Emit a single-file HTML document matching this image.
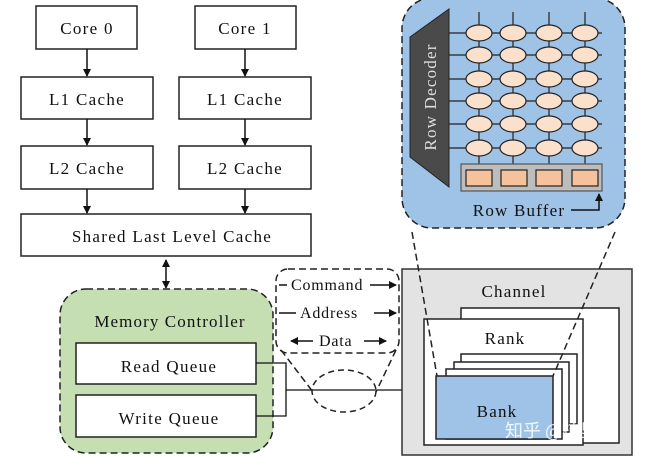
<!DOCTYPE html>
<html><head><meta charset="utf-8"><style>
html,body{margin:0;padding:0;background:#fff;}
svg{display:block;}
text{font-family:"Liberation Serif","Noto Serif CJK SC",serif;fill:#111;}
</style></head><body>
<svg width="646" height="457" viewBox="0 0 646 457" xmlns="http://www.w3.org/2000/svg">
<defs>
<marker id="ah" markerWidth="8" markerHeight="8" refX="7" refY="4" orient="auto" markerUnits="userSpaceOnUse">
<path d="M0,0 L8,4 L0,8 Z" fill="#111"/></marker>
<marker id="ahs" markerWidth="8" markerHeight="8" refX="1" refY="4" orient="auto" markerUnits="userSpaceOnUse">
<path d="M8,0 L0,4 L8,8 Z" fill="#111"/></marker>
</defs>
<g stroke="#222" stroke-width="1.5" fill="#fff">
<rect x="36" y="6" width="101" height="43"/>
<rect x="195" y="6" width="101" height="43"/>
<rect x="21" y="77" width="132" height="42"/>
<rect x="179" y="77" width="132" height="42"/>
<rect x="21" y="146" width="132" height="43"/>
<rect x="179" y="146" width="132" height="43"/>
<rect x="21" y="214" width="290" height="42"/>
</g>
<g stroke="#111" stroke-width="1.5" marker-end="url(#ah)">
<line x1="87" y1="49" x2="87" y2="76"/>
<line x1="245" y1="49" x2="245" y2="76"/>
<line x1="87" y1="119" x2="87" y2="145"/>
<line x1="245" y1="119" x2="245" y2="145"/>
<line x1="87" y1="189" x2="87" y2="213"/>
<line x1="245" y1="189" x2="245" y2="213"/>
<line x1="166" y1="260" x2="166" y2="288" marker-start="url(#ahs)"/>
</g>
<g font-size="17" text-anchor="middle" letter-spacing="1.3">
<text x="87" y="34">Core 0</text>
<text x="245" y="34">Core 1</text>
<text x="87" y="105">L1 Cache</text>
<text x="245" y="105">L1 Cache</text>
<text x="87" y="174">L2 Cache</text>
<text x="245" y="174">L2 Cache</text>
<text x="172" y="242">Shared Last Level Cache</text>
</g>
<rect x="60" y="289" width="213" height="164" rx="26" fill="#c5dfb2" stroke="#222" stroke-width="1.5" stroke-dasharray="7,4"/>
<g font-size="17" text-anchor="middle" letter-spacing="1.1">
<text x="170" y="327">Memory Controller</text>
</g>
<rect x="76" y="343" width="180" height="41" fill="#fff" stroke="#222" stroke-width="1.5"/>
<rect x="76" y="395" width="180" height="42" fill="#fff" stroke="#222" stroke-width="1.5"/>
<g font-size="17" text-anchor="middle" letter-spacing="1.3">
<text x="169" y="372">Read Queue</text>
<text x="169" y="424">Write Queue</text>
</g>
<path d="M256,363 H286 V416 H256 M286,390 H402" fill="none" stroke="#111" stroke-width="1.3"/>
<rect x="276" y="269" width="123" height="84" rx="12" fill="none" stroke="#222" stroke-width="1.5" stroke-dasharray="7,4"/>
<g font-size="16" letter-spacing="0.8">
<text x="291" y="290">Command</text>
<text x="300" y="318">Address</text>
<text x="319" y="346">Data</text>
</g>
<g stroke="#111" stroke-width="1.5">
<line x1="279" y1="285" x2="287" y2="285"/>
<line x1="370" y1="285" x2="396" y2="285" marker-end="url(#ah)"/>
<line x1="279" y1="313" x2="296" y2="313"/>
<line x1="374" y1="313" x2="396" y2="313" marker-end="url(#ah)"/>
<line x1="313" y1="341" x2="291" y2="341" marker-end="url(#ah)"/>
<line x1="364" y1="341" x2="386" y2="341" marker-end="url(#ah)"/>
</g>
<ellipse cx="344" cy="391" rx="32" ry="21" fill="none" stroke="#222" stroke-width="1.5" stroke-dasharray="6,4"/>
<g stroke="#222" stroke-width="1.5" stroke-dasharray="7,4" fill="none">
<line x1="281" y1="350" x2="313" y2="392"/>
<line x1="396" y1="350" x2="376" y2="392"/>
</g>
<rect x="402" y="269" width="230" height="186" fill="#e3e3e3" stroke="#333" stroke-width="1.5"/>
<text x="514" y="297" font-size="17" text-anchor="middle" letter-spacing="1.2">Channel</text>
<rect x="461" y="308" width="158" height="135" fill="#fff" stroke="#222" stroke-width="1.5"/>
<rect x="424" y="319" width="159" height="126" fill="#fff" stroke="#222" stroke-width="1.5"/>
<text x="505" y="344" font-size="17" text-anchor="middle" letter-spacing="1.2">Rank</text>
<rect x="461" y="354" width="116" height="70" fill="#fff" stroke="#222" stroke-width="1.5"/>
<rect x="454" y="362" width="115" height="70" fill="#fff" stroke="#222" stroke-width="1.5"/>
<rect x="446" y="369" width="116" height="70" fill="#fff" stroke="#222" stroke-width="1.5"/>
<rect x="436" y="376" width="117" height="63" fill="#9fc3e7" stroke="#222" stroke-width="1.5"/>
<text x="497" y="417" font-size="17" text-anchor="middle" letter-spacing="1.2">Bank</text>
<g stroke="#222" stroke-width="1.5" stroke-dasharray="7,4" fill="none">
<line x1="412" y1="232" x2="437" y2="376"/>
<line x1="615" y1="232" x2="553" y2="376"/>
</g>
<rect x="402" y="-2" width="223" height="230" rx="30" fill="#9fc3e7" stroke="#222" stroke-width="1.5" stroke-dasharray="7,4"/>
<polygon points="410,37 449,9 449,187 410,157" fill="#4a4a4a" stroke="#222"/>
<text transform="translate(436,97) rotate(-90)" font-size="17" text-anchor="middle" letter-spacing="1.2" style="fill:#ddd">Row Decoder</text>
<g stroke="#222" stroke-width="1.2">
<line x1="479" y1="12" x2="479" y2="165"/>
<line x1="513" y1="12" x2="513" y2="165"/>
<line x1="549" y1="12" x2="549" y2="165"/>
<line x1="585" y1="12" x2="585" y2="165"/>
<line x1="449" y1="33" x2="602" y2="33"/>
<line x1="449" y1="55" x2="602" y2="55"/>
<line x1="449" y1="79" x2="602" y2="79"/>
<line x1="449" y1="101" x2="602" y2="101"/>
<line x1="449" y1="124" x2="602" y2="124"/>
<line x1="449" y1="148" x2="602" y2="148"/>
</g>
<g fill="#fbe0cc" stroke="#222" stroke-width="1.2">
<ellipse cx="479" cy="33" rx="13" ry="8"/><ellipse cx="513" cy="33" rx="13" ry="8"/><ellipse cx="549" cy="33" rx="13" ry="8"/><ellipse cx="585" cy="33" rx="13" ry="8"/>
<ellipse cx="479" cy="55" rx="13" ry="8"/><ellipse cx="513" cy="55" rx="13" ry="8"/><ellipse cx="549" cy="55" rx="13" ry="8"/><ellipse cx="585" cy="55" rx="13" ry="8"/>
<ellipse cx="479" cy="79" rx="13" ry="8"/><ellipse cx="513" cy="79" rx="13" ry="8"/><ellipse cx="549" cy="79" rx="13" ry="8"/><ellipse cx="585" cy="79" rx="13" ry="8"/>
<ellipse cx="479" cy="101" rx="13" ry="8"/><ellipse cx="513" cy="101" rx="13" ry="8"/><ellipse cx="549" cy="101" rx="13" ry="8"/><ellipse cx="585" cy="101" rx="13" ry="8"/>
<ellipse cx="479" cy="124" rx="13" ry="8"/><ellipse cx="513" cy="124" rx="13" ry="8"/><ellipse cx="549" cy="124" rx="13" ry="8"/><ellipse cx="585" cy="124" rx="13" ry="8"/>
<ellipse cx="479" cy="148" rx="13" ry="8"/><ellipse cx="513" cy="148" rx="13" ry="8"/><ellipse cx="549" cy="148" rx="13" ry="8"/><ellipse cx="585" cy="148" rx="13" ry="8"/>
</g>
<rect x="461" y="164" width="141" height="27" fill="#bdbdbd" stroke="#555" stroke-width="1.2"/>
<g fill="#f6c29c" stroke="#222" stroke-width="1.2">
<rect x="466" y="170" width="26" height="16"/>
<rect x="501" y="170" width="26" height="16"/>
<rect x="536" y="170" width="26" height="16"/>
<rect x="572" y="170" width="26" height="16"/>
</g>
<text x="519" y="216" font-size="17" text-anchor="middle" letter-spacing="1.2">Row Buffer</text>
<path d="M571,210 H599 V194" fill="none" stroke="#111" stroke-width="1.5" marker-end="url(#ah)"/>
<text x="505" y="437" font-size="18" style="fill:rgba(255,255,255,0.85);font-family:'Noto Sans CJK SC',sans-serif">知乎 @桔里猫</text>
</svg>
</body></html>
